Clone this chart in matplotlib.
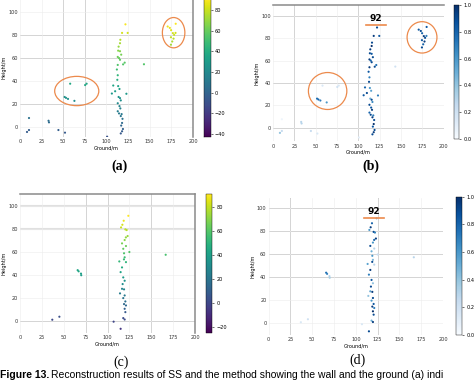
import matplotlib
matplotlib.use("Agg")
import matplotlib.pyplot as plt
from matplotlib.patches import Ellipse

# ---- data ----
# (a) / (b): same point cloud, (a) coloured by height, (b) by confidence
ab_x = [10.4, 10.4, 8.1, 33.0, 33.5, 44.4, 52.0, 100.7,
        51.6, 53.2, 55.5, 62.9, 58.0, 75.3, 77.0,
        121.9, 118.0, 124.5, 116.0, 115.6, 114.0, 113.5, 115.6, 117.0, 113.0,
        114.5, 115.6, 121.0, 113.0, 119.2, 112.0, 113.0, 112.5, 107.8, 113.5,
        115.0, 110.0, 106.2, 123.0, 114.0, 115.6, 116.5, 113.0, 115.0, 116.0,
        113.0, 114.5, 117.5, 116.5, 118.5, 118.0, 117.0, 119.0, 118.0, 116.5,
        143.3,
        170.7, 173.2, 174.7, 176.7, 179.8, 178.2, 174.5, 177.5, 176.0, 174.5, 180.0]
ab_y = [7.6, -2.9, -4.6, 5.2, 3.8, -2.9, -5.2, -8.7,
        26.0, 25.2, 24.3, 22.6, 37.6, 36.4, 37.6,
        89.5, 82.0, 82.0, 76.0, 73.0, 70.0, 66.5, 66.0, 63.0, 61.0,
        60.0, 58.5, 56.0, 54.0, 54.5, 50.0, 45.0, 41.0, 36.0, 35.5,
        33.0, 31.0, 29.0, 28.8, 26.0, 25.0, 23.0, 20.5, 18.0, 16.0,
        13.5, 11.6, 11.0, 9.3, 6.9, 3.3, 1.0, -2.0, -4.0, -5.9,
        54.6,
        87.6, 86.4, 84.4, 81.8, 82.0, 80.3, 78.2, 77.0, 74.5, 71.7, 90.0]
ab_conf = [0.05, 0.25, 0.4, 0.3, 0.3, 0.25, 0.15, 0.1,
           0.75, 0.8, 0.7, 0.6, 0.15, 0.2, 0.15,
           0.9, 0.95, 0.85, 0.9, 1.0, 0.95, 0.9, 0.85, 0.9, 0.95,
           0.8, 0.9, 0.75, 0.95, 0.9, 0.85, 0.7, 0.9, 0.8, 0.6,
           0.55, 0.9, 0.85, 0.7, 0.5, 0.9, 0.65, 0.9, 0.85, 0.95,
           0.8, 0.9, 0.7, 0.95, 0.9, 1.0, 0.85, 0.9, 0.95, 0.9,
           0.2,
           0.85, 0.9, 0.8, 0.95, 0.7, 0.9, 0.85, 0.95, 0.8, 0.9, 0.85]

# (c) / (d): second point cloud
cd_x = [36.9, 45.0, 107.0, 115.0,
        65.9, 67.0, 69.7, 70.0,
        123.8, 118.5, 117.0, 115.5, 120.4, 121.9, 123.0, 121.0, 119.6, 116.6,
        121.1, 118.0, 125.0, 118.9, 119.6, 118.8, 113.5, 121.1, 116.6, 115.0,
        118.0, 119.6, 117.3, 116.6, 118.9, 114.3, 119.6, 118.0, 120.4, 118.9,
        121.1, 119.6, 120.4, 118.0, 119.6,
        166.5]
cd_y = [0.9, 3.5, -0.8, -7.0,
        44.0, 43.0, 41.0, 39.6,
        91.3, 87.0, 83.5, 81.2, 79.5, 78.9, 73.7, 72.5, 70.2, 67.3,
        65.0, 62.6, 59.8, 58.7, 55.2, 53.4, 51.6, 51.0, 46.4, 42.3,
        37.7, 34.8, 31.9, 27.8, 27.3, 23.8, 22.0, 19.7, 16.8, 14.5,
        13.3, 10.4, 7.5, 2.3, 1.1,
        57.4]
cd_conf = [0.15, 0.2, 0.15, 0.9,
           0.75, 0.7, 0.3, 0.35,
           0.5, 0.8, 0.95, 0.6, 0.9, 0.7, 0.95, 0.8, 0.6, 0.9,
           0.3, 0.5, 0.25, 0.6, 0.45, 0.9, 0.55, 0.3, 0.95, 0.7,
           0.85, 0.4, 0.9, 0.55, 0.95, 0.4, 0.9, 0.6, 0.85, 0.95,
           0.7, 1.0, 0.9, 0.5, 0.95,
           0.3]

x_ticks = [0, 25, 50, 75, 100, 125, 150, 175, 200]
y_ticks = [0, 20, 40, 60, 80, 100]
peak_label = 92

W, H = 474, 382
ORANGE = '#ec8a4c'


def box(l, t, r, b):
    # pixel box (left, top, right, bottom) -> figure fraction rect
    return [l / W, (H - b) / H, (r - l) / W, (b - t) / H]


def style_axes(ax, ylim, hlines, vlines, spines):
    ax.set_xlim(0, 200)
    ax.set_ylim(*ylim)
    ax.set_xticks(x_ticks)
    ax.set_yticks(y_ticks)
    ax.tick_params(labelsize=3.6, length=0, pad=1.5, colors='#333333')
    ax.grid(True, color='#ececec', lw=0.4)
    ax.set_axisbelow(True)
    for v in hlines:
        ax.axhline(v, color='#b8b8b8', lw=0.7, zorder=0.5)
    for v in vlines:
        ax.axvline(v, color='#b8b8b8', lw=0.7, zorder=0.5)
    for name, sp in ax.spines.items():
        if name in spines:
            sp.set_color('#8a8a8a')
            sp.set_linewidth(1.1)
        else:
            sp.set_visible(False)
    ax.set_xlabel('Ground/m', fontsize=3.6, labelpad=1)
    ax.set_ylabel('Height/m', fontsize=3.6, labelpad=1)


def add_cbar(fig, sc, rect, ticks):
    cax = fig.add_axes(rect)
    cb = fig.colorbar(sc, cax=cax, ticks=ticks)
    cb.ax.tick_params(labelsize=3.6, length=1.5, width=0.4, pad=1.5)
    cb.outline.set_linewidth(0.3)
    return cb


def peak_mark(ax):
    ax.plot([109, 132], [peak_label, peak_label], color=ORANGE, lw=1.2, zorder=3)
    ax.text(120.5, peak_label + 1.5, str(peak_label), fontsize=6.5, fontweight='bold',
            ha='center', va='bottom')


fig = plt.figure(figsize=(W / 100, H / 100), dpi=100, facecolor='white')
dot = 2.4

# (a)
ax_a = fig.add_axes(box(20, -1.4, 193, 137))
sc_a = ax_a.scatter(ab_x, ab_y, c=ab_y, cmap='viridis', vmin=-43, vmax=91, s=dot, lw=0)
style_axes(ax_a, (-9, 112), [20, 60, 80], [50, 75], ['right'])
ax_a.add_patch(Ellipse((65.6, 31.2), 51, 25.6, fill=False, ec=ORANGE, lw=0.9))
ax_a.add_patch(Ellipse((177.6, 82.2), 26, 26.5, fill=False, ec=ORANGE, lw=0.9))
add_cbar(fig, sc_a, box(204, -1.4, 210.7, 137), [-40, -20, 0, 20, 40, 60, 80])

# (b)
ax_b = fig.add_axes(box(273, 5, 443.7, 141.5))
sc_b = ax_b.scatter(ab_x, ab_y, c=ab_conf, cmap='Blues', vmin=0, vmax=1, s=dot, lw=0)
style_axes(ax_b, (-12.3, 109.6), [0, 40, 100], [25, 100], ['top'])
ax_b.add_patch(Ellipse((64, 32.8), 45, 33, fill=False, ec=ORANGE, lw=0.9))
ax_b.add_patch(Ellipse((174.6, 80.7), 35, 28, fill=False, ec=ORANGE, lw=0.9))
peak_mark(ax_b)
add_cbar(fig, sc_b, box(454, 5, 459.3, 139), [0.0, 0.2, 0.4, 0.6, 0.8, 1.0])

# (c)
ax_c = fig.add_axes(box(20, 194.3, 195, 332.7))
sc_c = ax_c.scatter(cd_x, cd_y, c=cd_y, cmap='viridis', vmin=-25, vmax=91, s=dot, lw=0)
style_axes(ax_c, (-10.4, 110), [0], [75, 100, 150], ['top', 'right'])
ax_c.axhline(80, color='#e0e0e0', lw=1.5, zorder=0.4)
ax_c.axhline(100, color='#e0e0e0', lw=1.5, zorder=0.4)
add_cbar(fig, sc_c, box(206, 194, 212.3, 332.7), [-20, 0, 20, 40, 60, 80])

# (d)
ax_d = fig.add_axes(box(268.7, 198.3, 443, 335))
sc_d = ax_d.scatter(cd_x, cd_y, c=cd_conf, cmap='Blues', vmin=0, vmax=1, s=dot, lw=0)
style_axes(ax_d, (-10.2, 108.7), [40, 60, 80, 100], [25, 125], [])
peak_mark(ax_d)
add_cbar(fig, sc_d, box(456, 196.7, 462, 335), [0.0, 0.2, 0.4, 0.6, 0.8, 1.0])

# panel captions
serif = 'Liberation Serif'
fig.text(119 / W, 1 - 166 / H, '(a)', family=serif, fontsize=10, fontweight='bold', ha='center', va='center')
fig.text(371 / W, 1 - 166 / H, '(b)', family=serif, fontsize=10, fontweight='bold', ha='center', va='center')
fig.text(120.7 / W, 1 - 362 / H, '(c)', family=serif, fontsize=10, ha='center', va='center')
fig.text(357 / W, 1 - 360 / H, '(d)', family=serif, fontsize=10, ha='center', va='center')

# figure caption along the bottom edge
fig.text(0.0, 1.5 / H, 'Figure 13.', family='Liberation Sans', fontsize=7.5, fontweight='bold',
         ha='left', va='bottom')
fig.text(51 / W, 1.5 / H, 'Reconstruction results of SS and the method showing the wall and the ground (a) indi',
         family='Liberation Sans', fontsize=7.5, ha='left', va='bottom')

fig.savefig('out.png', dpi=100, facecolor='white')
